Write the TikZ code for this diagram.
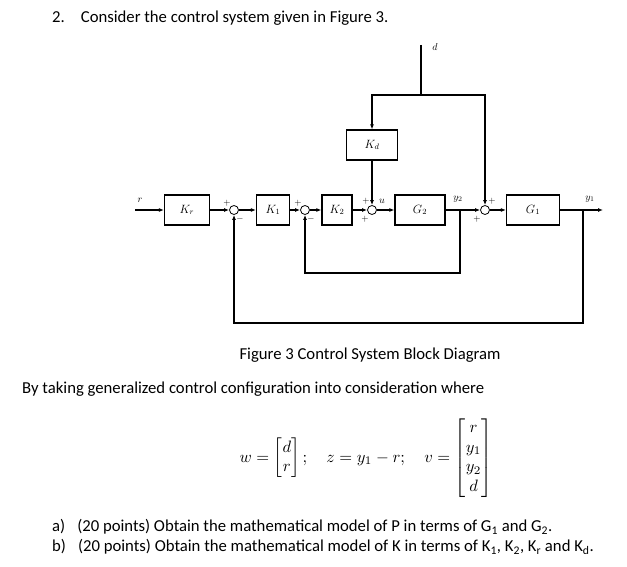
\documentclass[tikz,border=0pt]{standalone}
\usepackage{fontspec}
\setmainfont{Carlito}
\usepackage{amsmath}
\usetikzlibrary{arrows.meta}
\begin{document}
\begin{tikzpicture}[x=1pt,y=-1pt,
 blk/.style={draw,line width=1.2pt,minimum height=30pt,inner sep=0pt,font=\large},
 sm/.style={draw,circle,line width=0.8pt,minimum size=9pt,inner sep=0pt},
 sig/.style={line width=1.3pt,-{Latex[length=5pt,width=4pt]}},
 ln/.style={line width=1.3pt},
 lab/.style={font=\normalsize,inner sep=1pt},
 txt/.style={anchor=west,font=\fontsize{16.7}{18}\selectfont,inner sep=0pt}]
\useasboundingbox (0,0) rectangle (627,567);
\node[txt] (t1) at (52,18) {2.\hspace{16pt}Consider the control system given in Figure 3.};
\coordinate (rin) at (135,210);
\node[lab] (rl) at (140,200) {$r$};
\node[blk,minimum width=45pt] (kr) at (187,210) {$K_r$};
\node[sm] (s1) at (234,210) {};
\node[blk,minimum width=33pt] (k1) at (273,210) {$K_1$};
\node[sm] (s2) at (305,210) {};
\node[blk,minimum width=30pt] (k2) at (337,210) {$K_2$};
\node[sm] (s3) at (372,210) {};
\node[blk,minimum width=50pt] (g2) at (420,210) {$G_2$};
\node[sm] (s4) at (485,210) {};
\node[blk,minimum width=53pt] (g1) at (533,210) {$G_1$};
\node[blk,minimum width=51pt] (kd) at (372,145) {$K_d$};
\coordinate (out) at (603,210);
\coordinate (by2) at (460,210);
\coordinate (by1) at (583,210);
\coordinate (dtop) at (421,45);
\coordinate (dj) at (421,95);
\node[lab] (dl) at (435,47) {$d$};
\node[lab] (y2l) at (458,199) {$y_2$};
\node[lab] (y1l) at (590,199) {$y_1$};
\node[lab] (ul) at (382,201) {$u$};
\draw[sig] (rin) -- (kr);
\draw[sig] (kr) -- (s1);
\draw[sig] (s1) -- (k1);
\draw[sig] (k1) -- (s2);
\draw[sig] (s2) -- (k2);
\draw[sig] (k2) -- (s3);
\draw[sig] (s3) -- (g2);
\draw[sig] (g2) -- (s4);
\draw[sig] (s4) -- (g1);
\draw[sig] (g1) -- (out);
\draw[ln] (dtop) -- (dj);
\draw[sig] (dj) -| (kd.north);
\draw[sig] (dj) -| (s4.north);
\draw[sig] (kd) -- (s3);
\draw[sig] (by2) -- (460,273) -| (s2.south);
\draw[sig] (by1) -- (583,323) -| (s1.south);
\node[lab,font=\small] at (227,203) {$+$};
\node[lab,font=\small] at (240,219) {$-$};
\node[lab,font=\small] at (298,203) {$+$};
\node[lab,font=\small] at (311,219) {$-$};
\node[lab,font=\small] at (366,201) {$+$};
\node[lab,font=\small] at (365,219) {$+$};
\node[lab,font=\small] at (492,201) {$+$};
\node[lab,font=\small] at (477,219) {$+$};
\node[txt,anchor=center] (cap) at (370,355) {Figure 3 Control System Block Diagram};
\node[inner sep=0pt,txt,anchor=west] (t2) at (22,389) {By taking generalized control configuration into consideration where};
\node[inner sep=0pt,scale=1.65] (eq) at (366,458) {$w=\begin{bmatrix}d\\ r\end{bmatrix};\quad z=y_1-r;\quad v=\begin{bmatrix}r\\ y_1\\ y_2\\ d\end{bmatrix}$};
\node[txt] (ta) at (52,527) {a)\hspace{12pt}(20 points) Obtain the mathematical model of P in terms of G\textsubscript{1} and G\textsubscript{2}.};
\node[txt] (tb) at (52,547) {b)\hspace{12pt}(20 points) Obtain the mathematical model of K in terms of K\textsubscript{1}, K\textsubscript{2}, K\textsubscript{r} and K\textsubscript{d}.};
\end{tikzpicture}
\end{document}
